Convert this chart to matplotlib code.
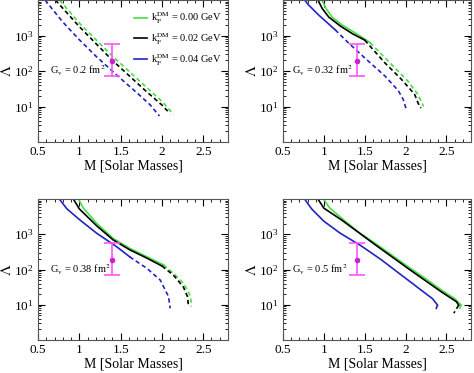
import matplotlib
matplotlib.use("Agg")
import matplotlib.pyplot as plt
from matplotlib.lines import Line2D
from matplotlib.ticker import MultipleLocator, FormatStrFormatter, NullFormatter

plt.rcParams['font.family'] = ['Liberation Serif', 'DejaVu Serif']
plt.rcParams['mathtext.fontset'] = 'stix'

# tidal deformability Lambda vs mass, one panel per G_v
gv_labels = [r"G$_{\rm v}$ = 0.2 fm$^2$", r"G$_{\rm v}$ = 0.32 fm$^2$",
             r"G$_{\rm v}$ = 0.38 fm$^2$", r"G$_{\rm v}$ = 0.5 fm$^2$"]
kf_labels = [r"k$_{\rm F}^{\rm DM}$ = 0.00 GeV", r"k$_{\rm F}^{\rm DM}$ = 0.02 GeV",
             r"k$_{\rm F}^{\rm DM}$ = 0.04 GeV"]
colors = ["#44e044", "black", "#2323c0"]

# GW170817: Lambda(1.4) = 190 +390 -120
gw_m = 1.4
gw_lam = 190
gw_lo = 120
gw_hi = 390

# each curve: masses, Lambda values, number of points on the solid part
# panel 1, Gv = 0.2 (all dashed)
m1_g = [0.76, 1.0, 1.4, 1.8, 2.0, 2.14]
l1_g = [10000, 2240, 263, 37, 14, 6.0]
m1_k = [0.71, 1.0, 1.4, 1.8, 2.0, 2.07]
l1_k = [10000, 1780, 200, 28, 11, 7.4]
m1_b = [0.585, 0.8, 1.0, 1.2, 1.46, 1.7, 1.86, 1.97]
l1_b = [10000, 2400, 760, 263, 74, 24, 11, 5.4]
n1 = [0, 0, 0]

# panel 2, Gv = 0.32
m2_g = [0.976, 1.03, 1.1, 1.22, 1.42, 1.565, 1.83, 2.03, 2.15, 2.22]
l2_g = [10000, 5600, 3300, 2000, 1050, 630, 151, 51, 22, 10]
m2_k = [0.927, 0.98, 1.06, 1.2, 1.35, 1.50, 1.75, 1.95, 2.11, 2.17, 2.19]
l2_k = [10000, 5750, 3300, 1860, 1120, 740, 166, 58, 22, 10, 9.1]
m2_b = [0.764, 0.813, 0.935, 1.138, 1.30, 1.50, 1.748, 1.91, 1.97, 2.01]
l2_b = [10000, 7240, 3800, 1450, 620, 234, 72, 28, 16, 8.0]
n2 = [6, 6, 4]

# panel 3, Gv = 0.38
m3_g = [0.988, 1.05, 1.21, 1.41, 1.61, 1.82, 2.02, 2.14, 2.26, 2.33, 2.36, 2.35]
l3_g = [10000, 5500, 2040, 760, 400, 229, 135, 78, 41, 21, 11, 8.9]
m3_k = [0.928, 1.0, 1.21, 1.41, 1.61, 1.82, 2.0, 2.14, 2.26, 2.31, 2.32]
l3_k = [10000, 5250, 1740, 690, 363, 209, 126, 69, 32, 17, 9.8]
m3_b = [0.758, 0.85, 1.01, 1.21, 1.45, 1.61, 1.82, 1.98, 2.08, 2.10]
l3_b = [10000, 5250, 2510, 1070, 447, 229, 107, 50, 17, 7.9]
n3 = [7, 7, 6]

# panel 4, Gv = 0.5
m4_g = [0.996, 1.07, 1.22, 1.42, 1.63, 1.83, 2.03, 2.24, 2.44, 2.60, 2.68, 2.64]
l4_g = [10000, 5600, 2820, 1170, 550, 257, 120, 56, 26, 15, 9.8, 6.3]
m4_k = [0.927, 1.0, 1.22, 1.63, 2.03, 2.44, 2.62, 2.65, 2.59]
l4_k = [10000, 5500, 2510, 500, 107, 23, 12.3, 9.8, 5.8]
m4_b = [0.764, 0.85, 1.0, 1.2, 1.45, 1.7, 1.95, 2.2, 2.33, 2.39, 2.36]
l4_b = [10000, 5250, 2340, 1070, 479, 191, 69, 25, 14.8, 9.8, 6.3]
n4 = [11, 8, 10]

panels = [
    ([m1_g, m1_k, m1_b], [l1_g, l1_k, l1_b], n1),
    ([m2_g, m2_k, m2_b], [l2_g, l2_k, l2_b], n2),
    ([m3_g, m3_k, m3_b], [l3_g, l3_k, l3_b], n3),
    ([m4_g, m4_k, m4_b], [l4_g, l4_k, l4_b], n4),
]

W, H = 474, 373
fig = plt.figure(figsize=(W / 100, H / 100), dpi=100)
boxes = [(38, 0, 228, 142), (283, 0, 471, 142),
         (38, 199, 228, 340), (283, 199, 471, 340)]
dash = (0, (2.6, 1.8))

for i, (ms, ls, ns) in enumerate(panels):
    x0, y0, x1, y1 = boxes[i]
    ax = fig.add_axes([x0 / W, 1 - y1 / H, (x1 - x0) / W, (y1 - y0) / H])
    for m, lam, n, c in zip(ms, ls, ns, colors):
        if n > 0:
            ax.plot(m[:n], lam[:n], color=c, lw=1.2)
            ax.plot(m[n - 1:], lam[n - 1:], color=c, lw=1.2, ls=dash)
        else:
            ax.plot(m, lam, color=c, lw=1.2, ls=dash)
    ax.errorbar([gw_m], [gw_lam], yerr=[[gw_lo], [gw_hi]], fmt='o', color='#ff55ff',
                mfc='#cc22cc', mec='#cc22cc', ms=3, lw=1.2, capsize=6, capthick=1.2)
    ax.set_yscale('log')
    ax.set_xlim(0.5, 2.8)
    ax.set_ylim(1, 1e4)
    ax.set_yticks([10, 100, 1000])
    ax.yaxis.set_minor_formatter(NullFormatter())
    ax.xaxis.set_major_locator(MultipleLocator(0.5))
    ax.xaxis.set_minor_locator(MultipleLocator(0.1))
    ax.xaxis.set_major_formatter(FormatStrFormatter('%g'))
    ax.tick_params(which='both', direction='in', top=True, right=True, labelsize=9.5,
                   pad=3)
    ax.tick_params(which='major', length=5, width=0.8)
    ax.tick_params(which='minor', length=2.5, width=0.6)
    for s in ax.spines.values():
        s.set_color('#555555')
    ax.set_xlabel("M [Solar Masses]", fontsize=10, labelpad=1)
    ax.set_ylabel(r"$\Lambda$", fontsize=11, labelpad=0)
    xt = 0.645 if i % 2 == 0 else 0.61
    ax.text(xt, 100, gv_labels[i], fontsize=7.5, va='center', ha='left')
    if i == 0:
        handles = [Line2D([], [], color=c, lw=1.2) for c in colors]
        ax.legend(handles, kf_labels, loc='upper right', frameon=False, fontsize=7.5,
                  handlelength=1.2, handletextpad=0.4, labelspacing=0.45,
                  borderaxespad=0.2, bbox_to_anchor=(1.0, 0.97))

fig.savefig("out.png", dpi=100)
